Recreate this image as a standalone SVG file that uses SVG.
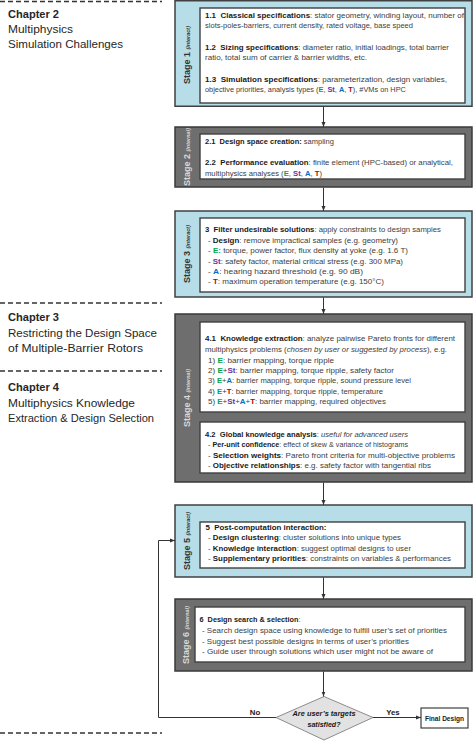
<svg xmlns="http://www.w3.org/2000/svg" width="474" height="742" viewBox="0 0 474 742">
<defs>
<style>
.t{font-family:"Liberation Sans",Arial,sans-serif;font-size:7.8px;fill:#404040}
.b{font-weight:bold;fill:#1a1a1a}
.i{font-style:italic}
.E{fill:#00a651;font-weight:bold}
.S{fill:#7030a0;font-weight:bold}
.A{fill:#0070c0;font-weight:bold}
.T{fill:#c00000;font-weight:bold}
.ch{font-family:"Liberation Sans",Arial,sans-serif;font-size:11.6px;fill:#262626}
.sb{fill:#b7dee8;stroke:#404040;stroke-width:1.5}
.sg{fill:#6e6e6e;stroke:#3a3a3a;stroke-width:1.5}
.in{fill:#ffffff;stroke:#404040;stroke-width:1.4}
.sl{font-family:"Liberation Sans",Arial,sans-serif;font-size:9px;font-weight:bold}
.sm{font-size:5.5px;font-style:italic}
.dash{stroke:#333;stroke-width:1.6;stroke-dasharray:5 3;fill:none}
.cn{stroke:#333;stroke-width:1;fill:none}
</style>
<marker id="ah" viewBox="0 0 10 10" refX="10" refY="5" markerWidth="5" markerHeight="5" orient="auto" markerUnits="userSpaceOnUse"><path d="M0,1 L10,5 L0,9 z" fill="#333"/></marker>
</defs>
<rect width="474" height="742" fill="#fff"/>

<g id="chapters">
<line class="dash" x1="0" y1="1.5" x2="162" y2="1.5"/>
<line class="dash" x1="0" y1="303" x2="162" y2="303"/>
<line class="dash" x1="0" y1="371" x2="162" y2="371"/>
<line class="dash" x1="0" y1="733" x2="162" y2="733"/>
<text class="ch" x="8" y="18" font-weight="bold" textLength="51" lengthAdjust="spacingAndGlyphs">Chapter 2</text>
<text class="ch" x="8" y="33" textLength="65" lengthAdjust="spacingAndGlyphs">Multiphysics</text>
<text class="ch" x="8" y="48" textLength="115" lengthAdjust="spacingAndGlyphs">Simulation Challenges</text>
<text class="ch" x="8" y="321" font-weight="bold" textLength="51" lengthAdjust="spacingAndGlyphs">Chapter 3</text>
<text class="ch" x="8" y="337" textLength="149" lengthAdjust="spacingAndGlyphs">Restricting the Design Space</text>
<text class="ch" x="8" y="352" textLength="135" lengthAdjust="spacingAndGlyphs">of Multiple-Barrier Rotors</text>
<text class="ch" x="8" y="391" font-weight="bold" textLength="51" lengthAdjust="spacingAndGlyphs">Chapter 4</text>
<text class="ch" x="8" y="407" textLength="127" lengthAdjust="spacingAndGlyphs">Multiphysics Knowledge</text>
<text class="ch" x="8" y="422" textLength="146" lengthAdjust="spacingAndGlyphs">Extraction &amp; Design Selection</text>
</g>

<g id="stage1">
<rect class="sb" x="175" y="0.75" width="297" height="105.5"/>
<rect class="in" x="200" y="8" width="265" height="95"/>
<text class="sl" fill="#333" text-anchor="middle" transform="translate(189.5,55) rotate(-90)">Stage 1 <tspan class="sm">(interact)</tspan></text>
<text class="t" x="205" y="18" textLength="259" lengthAdjust="spacingAndGlyphs"><tspan class="b">1.1&#160; Classical specifications</tspan>: stator geometry, winding layout, number of</text>
<text class="t" x="205" y="28" textLength="208" lengthAdjust="spacingAndGlyphs">slots-poles-barriers, current density, rated voltage, base speed</text>
<text class="t" x="205" y="50" textLength="244" lengthAdjust="spacingAndGlyphs"><tspan class="b">1.2&#160; Sizing specifications</tspan>: diameter ratio, initial loadings, total barrier</text>
<text class="t" x="205" y="60" textLength="162" lengthAdjust="spacingAndGlyphs">ratio, total sum of carrier &amp; barrier widths, etc.</text>
<text class="t" x="205" y="82" textLength="242" lengthAdjust="spacingAndGlyphs"><tspan class="b">1.3&#160; Simulation specifications</tspan>: parameterization, design variables,</text>
<text class="t" x="205" y="92" style="font-size:7.35px">objective priorities, analysis types (<tspan class="E">E</tspan>, <tspan class="S">St</tspan>, <tspan class="A">A</tspan>, <tspan class="T">T</tspan>), #VMs on HPC</text>
</g>

<g id="stage2">
<rect class="sg" x="175" y="127" width="297" height="60"/>
<rect class="in" x="200" y="134" width="265" height="45"/>
<text class="sl" fill="#d9d9d9" text-anchor="middle" transform="translate(189.5,157) rotate(-90)">Stage 2 <tspan class="sm">(internal)</tspan></text>
<text class="t" x="205" y="144" style="font-size:7.5px"><tspan class="b">2.1&#160; Design space creation:</tspan> sampling</text>
<text class="t" x="205" y="165" textLength="248" lengthAdjust="spacingAndGlyphs"><tspan class="b">2.2&#160; Performance evaluation</tspan>: finite element (HPC-based) or analytical,</text>
<text class="t" x="205" y="176" textLength="117" lengthAdjust="spacingAndGlyphs">multiphysics analyses (<tspan class="E">E</tspan>, <tspan class="S">St</tspan>, <tspan class="A">A</tspan>, <tspan class="T">T</tspan>)</text>
</g>

<g id="stage3">
<rect class="sb" x="175" y="211" width="297" height="86"/>
<rect class="in" x="200" y="218" width="265" height="74"/>
<text class="sl" fill="#333" text-anchor="middle" transform="translate(189.5,254) rotate(-90)">Stage 3 <tspan class="sm">(interact)</tspan></text>
<text class="t" x="205" y="232" textLength="236" lengthAdjust="spacingAndGlyphs"><tspan class="b">3&#160; Filter undesirable solutions</tspan>: apply constraints to design samples</text>
<text class="t" x="208" y="243" textLength="190" lengthAdjust="spacingAndGlyphs">- <tspan class="b">Design</tspan>: remove impractical samples (e.g. geometry)</text>
<text class="t" x="208" y="253" textLength="200" lengthAdjust="spacingAndGlyphs">- <tspan class="E">E:</tspan> torque, power factor, flux density at yoke (e.g. 1.6 T)</text>
<text class="t" x="208" y="263.5" textLength="195" lengthAdjust="spacingAndGlyphs">- <tspan class="S">St</tspan>: safety factor, material critical stress (e.g. 300 MPa)</text>
<text class="t" x="208" y="274" textLength="155" lengthAdjust="spacingAndGlyphs">- <tspan class="A">A</tspan>: hearing hazard threshold (e.g. 90 dB)</text>
<text class="t" x="208" y="284" textLength="176" lengthAdjust="spacingAndGlyphs">- <tspan class="T">T</tspan>: maximum operation temperature (e.g. 150°C)</text>
</g>

<g id="stage4">
<rect class="sg" x="175" y="314" width="297" height="168"/>
<rect class="in" x="200" y="322" width="265" height="90"/>
<rect class="in" x="200" y="422" width="265" height="51"/>
<text class="sl" fill="#d9d9d9" text-anchor="middle" transform="translate(189.5,398) rotate(-90)">Stage 4 <tspan class="sm">(internal)</tspan></text>
<text class="t" x="205" y="341" textLength="250" lengthAdjust="spacingAndGlyphs"><tspan class="b">4.1&#160; Knowledge extraction</tspan>: analyze pairwise Pareto fronts for different</text>
<text class="t" x="205" y="352" textLength="242" lengthAdjust="spacingAndGlyphs">multiphysics problems (<tspan class="i">chosen by user or suggested by process</tspan>), e.g.</text>
<text class="t" x="208" y="362.5" textLength="126" lengthAdjust="spacingAndGlyphs">1) <tspan class="E">E</tspan>: barrier mapping, torque ripple</text>
<text class="t" x="208" y="373" textLength="186" lengthAdjust="spacingAndGlyphs">2) <tspan class="E">E</tspan>+<tspan class="S">St</tspan>: barrier mapping, torque ripple, safety factor</text>
<text class="t" x="208" y="383" textLength="203" lengthAdjust="spacingAndGlyphs">3) <tspan class="E">E</tspan>+<tspan class="A">A</tspan>: barrier mapping, torque ripple, sound pressure level</text>
<text class="t" x="208" y="393.5" textLength="175" lengthAdjust="spacingAndGlyphs">4) <tspan class="E">E</tspan>+<tspan class="T">T</tspan>: barrier mapping, torque ripple, temperature</text>
<text class="t" x="208" y="404" textLength="178" lengthAdjust="spacingAndGlyphs">5) <tspan class="E">E</tspan>+<tspan class="S">St</tspan>+<tspan class="A">A</tspan>+<tspan class="T">T</tspan>: barrier mapping, required objectives</text>
<text class="t" x="205" y="437" style="font-size:7.6px"><tspan class="b">4.2&#160; Global knowledge analysis</tspan>: <tspan class="i">useful for advanced users</tspan></text>
<text class="t" x="208" y="447" textLength="200" lengthAdjust="spacingAndGlyphs">- <tspan class="b">Per-unit confidence</tspan>: effect of skew &amp; variance of histograms</text>
<text class="t" x="208" y="458" textLength="247" lengthAdjust="spacingAndGlyphs">- <tspan class="b">Selection weights</tspan>: Pareto front criteria for multi-objective problems</text>
<text class="t" x="208" y="468" textLength="223" lengthAdjust="spacingAndGlyphs">- <tspan class="b">Objective relationships</tspan>: e.g. safety factor with tangential ribs</text>
</g>

<g id="stage5">
<rect class="sb" x="175" y="505" width="297" height="72"/>
<rect class="in" x="200" y="522" width="265" height="46"/>
<text class="sl" fill="#333" text-anchor="middle" transform="translate(189.5,541) rotate(-90)">Stage 5 <tspan class="sm">(interact)</tspan></text>
<text class="t" x="205.5" y="529.5" textLength="121" lengthAdjust="spacingAndGlyphs"><tspan class="b">5&#160; Post-computation interaction:</tspan></text>
<text class="t" x="208" y="540" textLength="193" lengthAdjust="spacingAndGlyphs">- <tspan class="b">Design clustering</tspan>: cluster solutions into unique types</text>
<text class="t" x="208" y="550.5" textLength="203" lengthAdjust="spacingAndGlyphs">- <tspan class="b">Knowledge interaction</tspan>: suggest optimal designs to user</text>
<text class="t" x="208" y="561" textLength="243" lengthAdjust="spacingAndGlyphs">- <tspan class="b">Supplementary priorities</tspan>: constraints on variables &amp; performances</text>
</g>

<g id="stage6">
<rect class="sg" x="175" y="599" width="297" height="72"/>
<rect class="in" x="195" y="607" width="270" height="55"/>
<text class="sl" fill="#d9d9d9" text-anchor="middle" transform="translate(189,635) rotate(-90)">Stage 6 <tspan class="sm">(internal)</tspan></text>
<text class="t" x="199.5" y="622" style="font-size:7.3px"><tspan class="b">6&#160; Design search &amp; selection</tspan>:</text>
<text class="t" x="202" y="633" textLength="245" lengthAdjust="spacingAndGlyphs">- Search design space using knowledge to fulfill user’s set of priorities</text>
<text class="t" x="202" y="643.5" textLength="207" lengthAdjust="spacingAndGlyphs">- Suggest best possible designs in terms of user’s priorities</text>
<text class="t" x="202" y="654" textLength="231" lengthAdjust="spacingAndGlyphs">- Guide user through solutions which user might not be aware of</text>
</g>

<g id="decision">
<polygon points="324,696.5 373,717.5 324,740 276,717.5" fill="#e2e2e2" stroke="#8c8c8c" stroke-width="1"/>
<text class="t b i" x="324" y="716" text-anchor="middle" textLength="63" lengthAdjust="spacingAndGlyphs">Are user’s targets</text>
<text class="t b i" x="324" y="727" text-anchor="middle" textLength="33" lengthAdjust="spacingAndGlyphs">satisfied?</text>
</g>

<g id="final">
<rect x="421" y="708" width="47" height="20" fill="#fff" stroke="#404040" stroke-width="1.2"/>
<text class="t b" x="444.5" y="721" text-anchor="middle" textLength="39" lengthAdjust="spacingAndGlyphs">Final Design</text>
</g>

<g id="connectors">
<path class="cn" d="M323.5 106.5 V127" marker-end="url(#ah)"/>
<path class="cn" d="M323.5 187.5 V211" marker-end="url(#ah)"/>
<path class="cn" d="M323.5 297.5 V314" marker-end="url(#ah)"/>
<path class="cn" d="M323.5 482.5 V505" marker-end="url(#ah)"/>
<path class="cn" d="M323.5 577.5 V599" marker-end="url(#ah)"/>
<path class="cn" d="M323.5 671.5 V696.5" marker-end="url(#ah)"/>
<path class="cn" d="M276 717.5 H158.5 V540.5 H175" marker-end="url(#ah)"/>
<path class="cn" d="M373 717.5 H421" marker-end="url(#ah)"/>
<text class="t b" x="255" y="715" text-anchor="middle">No</text>
<text class="t b" x="393" y="715" text-anchor="middle">Yes</text>
</g>
</svg>
